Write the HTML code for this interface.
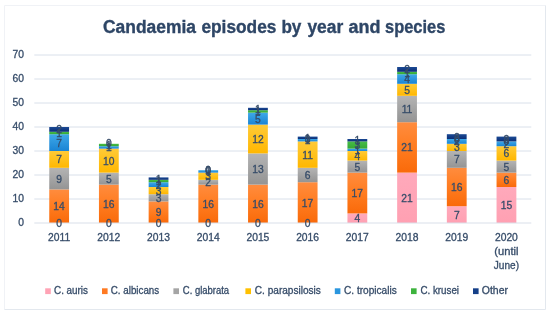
<!DOCTYPE html>
<html lang="en"><head><meta charset="utf-8"><title>Candaemia episodes by year and species</title>
<style>html,body{margin:0;padding:0;background:#fff}svg{display:block}text{font-family:"Liberation Sans",sans-serif}.l{stroke:#364c69;stroke-width:.3px}.t{stroke:#2e4666;stroke-width:.35px}</style></head><body>
<svg width="550" height="314" viewBox="0 0 550 314">
<defs>
<linearGradient id="g0" x1="0" y1="0" x2="0" y2="1"><stop offset="0" stop-color="#ffa9bb"/><stop offset="0.5" stop-color="#ffa5b7"/><stop offset="1" stop-color="#ffa0b2"/></linearGradient>
<linearGradient id="g1" x1="0" y1="0" x2="0" y2="1"><stop offset="0" stop-color="#ff8c3e"/><stop offset="0.5" stop-color="#ff7c20"/><stop offset="1" stop-color="#f96a0a"/></linearGradient>
<linearGradient id="g2" x1="0" y1="0" x2="0" y2="1"><stop offset="0" stop-color="#b4b4b4"/><stop offset="0.5" stop-color="#a4a4a4"/><stop offset="1" stop-color="#949494"/></linearGradient>
<linearGradient id="g3" x1="0" y1="0" x2="0" y2="1"><stop offset="0" stop-color="#ffca38"/><stop offset="0.5" stop-color="#ffc11c"/><stop offset="1" stop-color="#ffb700"/></linearGradient>
<linearGradient id="g4" x1="0" y1="0" x2="0" y2="1"><stop offset="0" stop-color="#3fa9e8"/><stop offset="0.5" stop-color="#2c96de"/><stop offset="1" stop-color="#1a84d4"/></linearGradient>
<linearGradient id="g5" x1="0" y1="0" x2="0" y2="1"><stop offset="0" stop-color="#48bd48"/><stop offset="0.5" stop-color="#3eb23e"/><stop offset="1" stop-color="#35a835"/></linearGradient>
<linearGradient id="g6" x1="0" y1="0" x2="0" y2="1"><stop offset="0" stop-color="#1b4a94"/><stop offset="0.5" stop-color="#133c86"/><stop offset="1" stop-color="#0b2f78"/></linearGradient>
</defs>
<rect width="550" height="314" fill="#fff"/>
<path d="M4.5 309.5V5.5H545.5" fill="none" stroke="#f0f2f6" stroke-width="1"/>
<path d="M545.5 5.5V309.5H4.5" fill="none" stroke="#e3e8ee" stroke-width="1"/>
<text class="t" y="32.8" font-size="18" font-weight="bold" fill="#2e4666"><tspan x="103.00" textLength="93.00" lengthAdjust="spacingAndGlyphs">Candaemia</tspan> <tspan x="201.40" textLength="75.00" lengthAdjust="spacingAndGlyphs">episodes</tspan> <tspan x="281.40" textLength="20.00" lengthAdjust="spacingAndGlyphs">by</tspan> <tspan x="307.40" textLength="35.80" lengthAdjust="spacingAndGlyphs">year</tspan> <tspan x="348.60" textLength="32.00" lengthAdjust="spacingAndGlyphs">and</tspan> <tspan x="385.00" textLength="60.40" lengthAdjust="spacingAndGlyphs">species</tspan></text>
<line x1="34.3" x2="531.3" y1="199.0" y2="199.0" stroke="#d9e0ea" stroke-width="1"/>
<line x1="34.3" x2="531.3" y1="175.0" y2="175.0" stroke="#d9e0ea" stroke-width="1"/>
<line x1="34.3" x2="531.3" y1="151.0" y2="151.0" stroke="#d9e0ea" stroke-width="1"/>
<line x1="34.3" x2="531.3" y1="127.0" y2="127.0" stroke="#d9e0ea" stroke-width="1"/>
<line x1="34.3" x2="531.3" y1="103.0" y2="103.0" stroke="#d9e0ea" stroke-width="1"/>
<line x1="34.3" x2="531.3" y1="79.0" y2="79.0" stroke="#d9e0ea" stroke-width="1"/>
<line x1="34.3" x2="531.3" y1="55.0" y2="55.0" stroke="#d9e0ea" stroke-width="1"/>
<text x="24" y="225.5" class="l" font-size="10.3" fill="#364c69" text-anchor="end">0</text>
<text x="24" y="201.5" class="l" font-size="10.3" fill="#364c69" text-anchor="end">10</text>
<text x="24" y="177.5" class="l" font-size="10.3" fill="#364c69" text-anchor="end">20</text>
<text x="24" y="153.5" class="l" font-size="10.3" fill="#364c69" text-anchor="end">30</text>
<text x="24" y="129.5" class="l" font-size="10.3" fill="#364c69" text-anchor="end">40</text>
<text x="24" y="105.5" class="l" font-size="10.3" fill="#364c69" text-anchor="end">50</text>
<text x="24" y="81.5" class="l" font-size="10.3" fill="#364c69" text-anchor="end">60</text>
<text x="24" y="57.5" class="l" font-size="10.3" fill="#364c69" text-anchor="end">70</text>
<rect x="49.25" y="189.40" width="19.8" height="33.60" fill="url(#g1)"/>
<rect x="49.25" y="167.80" width="19.8" height="21.60" fill="url(#g2)"/>
<rect x="49.25" y="151.00" width="19.8" height="16.80" fill="url(#g3)"/>
<rect x="49.25" y="134.20" width="19.8" height="16.80" fill="url(#g4)"/>
<rect x="49.25" y="131.80" width="19.8" height="2.40" fill="url(#g5)"/>
<rect x="49.25" y="127.00" width="19.8" height="4.80" fill="url(#g6)"/>
<rect x="98.95" y="184.60" width="19.8" height="38.40" fill="url(#g1)"/>
<rect x="98.95" y="172.60" width="19.8" height="12.00" fill="url(#g2)"/>
<rect x="98.95" y="148.60" width="19.8" height="24.00" fill="url(#g3)"/>
<rect x="98.95" y="146.20" width="19.8" height="2.40" fill="url(#g4)"/>
<rect x="98.95" y="143.80" width="19.8" height="2.40" fill="url(#g5)"/>
<rect x="148.65" y="201.40" width="19.8" height="21.60" fill="url(#g1)"/>
<rect x="148.65" y="194.20" width="19.8" height="7.20" fill="url(#g2)"/>
<rect x="148.65" y="187.00" width="19.8" height="7.20" fill="url(#g3)"/>
<rect x="148.65" y="182.20" width="19.8" height="4.80" fill="url(#g4)"/>
<rect x="148.65" y="179.80" width="19.8" height="2.40" fill="url(#g5)"/>
<rect x="148.65" y="177.40" width="19.8" height="2.40" fill="url(#g6)"/>
<rect x="198.35" y="184.60" width="19.8" height="38.40" fill="url(#g1)"/>
<rect x="198.35" y="179.80" width="19.8" height="4.80" fill="url(#g2)"/>
<rect x="198.35" y="172.60" width="19.8" height="7.20" fill="url(#g3)"/>
<rect x="198.35" y="170.20" width="19.8" height="2.40" fill="url(#g4)"/>
<rect x="248.05" y="184.60" width="19.8" height="38.40" fill="url(#g1)"/>
<rect x="248.05" y="153.40" width="19.8" height="31.20" fill="url(#g2)"/>
<rect x="248.05" y="124.60" width="19.8" height="28.80" fill="url(#g3)"/>
<rect x="248.05" y="112.60" width="19.8" height="12.00" fill="url(#g4)"/>
<rect x="248.05" y="110.20" width="19.8" height="2.40" fill="url(#g5)"/>
<rect x="248.05" y="107.80" width="19.8" height="2.40" fill="url(#g6)"/>
<rect x="297.75" y="182.20" width="19.8" height="40.80" fill="url(#g1)"/>
<rect x="297.75" y="167.80" width="19.8" height="14.40" fill="url(#g2)"/>
<rect x="297.75" y="141.40" width="19.8" height="26.40" fill="url(#g3)"/>
<rect x="297.75" y="139.00" width="19.8" height="2.40" fill="url(#g4)"/>
<rect x="297.75" y="136.60" width="19.8" height="2.40" fill="url(#g6)"/>
<rect x="347.45" y="213.40" width="19.8" height="9.60" fill="url(#g0)"/>
<rect x="347.45" y="172.60" width="19.8" height="40.80" fill="url(#g1)"/>
<rect x="347.45" y="160.60" width="19.8" height="12.00" fill="url(#g2)"/>
<rect x="347.45" y="151.00" width="19.8" height="9.60" fill="url(#g3)"/>
<rect x="347.45" y="148.60" width="19.8" height="2.40" fill="url(#g4)"/>
<rect x="347.45" y="141.40" width="19.8" height="7.20" fill="url(#g5)"/>
<rect x="347.45" y="139.00" width="19.8" height="2.40" fill="url(#g6)"/>
<rect x="397.15" y="172.60" width="19.8" height="50.40" fill="url(#g0)"/>
<rect x="397.15" y="122.20" width="19.8" height="50.40" fill="url(#g1)"/>
<rect x="397.15" y="95.80" width="19.8" height="26.40" fill="url(#g2)"/>
<rect x="397.15" y="83.80" width="19.8" height="12.00" fill="url(#g3)"/>
<rect x="397.15" y="74.20" width="19.8" height="9.60" fill="url(#g4)"/>
<rect x="397.15" y="71.80" width="19.8" height="2.40" fill="url(#g5)"/>
<rect x="397.15" y="67.00" width="19.8" height="4.80" fill="url(#g6)"/>
<rect x="446.85" y="206.20" width="19.8" height="16.80" fill="url(#g0)"/>
<rect x="446.85" y="167.80" width="19.8" height="38.40" fill="url(#g1)"/>
<rect x="446.85" y="151.00" width="19.8" height="16.80" fill="url(#g2)"/>
<rect x="446.85" y="143.80" width="19.8" height="7.20" fill="url(#g3)"/>
<rect x="446.85" y="139.00" width="19.8" height="4.80" fill="url(#g4)"/>
<rect x="446.85" y="134.20" width="19.8" height="4.80" fill="url(#g6)"/>
<rect x="496.55" y="187.00" width="19.8" height="36.00" fill="url(#g0)"/>
<rect x="496.55" y="172.60" width="19.8" height="14.40" fill="url(#g1)"/>
<rect x="496.55" y="160.60" width="19.8" height="12.00" fill="url(#g2)"/>
<rect x="496.55" y="146.20" width="19.8" height="14.40" fill="url(#g3)"/>
<rect x="496.55" y="141.40" width="19.8" height="4.80" fill="url(#g4)"/>
<rect x="496.55" y="136.60" width="19.8" height="4.80" fill="url(#g6)"/>
<line x1="34.3" x2="531.3" y1="223.0" y2="223.0" stroke="#d9dfe9" stroke-width="1.1"/>
<text x="59.1" y="226.5" class="l" font-size="10.3" fill="#364c69" text-anchor="middle">0</text>
<text x="108.8" y="226.5" class="l" font-size="10.3" fill="#364c69" text-anchor="middle">0</text>
<text x="158.5" y="226.5" class="l" font-size="10.3" fill="#364c69" text-anchor="middle">0</text>
<text x="208.2" y="226.5" class="l" font-size="10.3" fill="#364c69" text-anchor="middle">0</text>
<text x="257.9" y="226.5" class="l" font-size="10.3" fill="#364c69" text-anchor="middle">0</text>
<text x="307.6" y="226.5" class="l" font-size="10.3" fill="#364c69" text-anchor="middle">0</text>
<text x="357.3" y="222.2" class="l" font-size="10.3" fill="#364c69" text-anchor="middle">4</text>
<text x="407.0" y="201.8" class="l" font-size="10.3" fill="#364c69" text-anchor="middle">21</text>
<text x="456.8" y="218.6" class="l" font-size="10.3" fill="#364c69" text-anchor="middle">7</text>
<text x="506.4" y="209.0" class="l" font-size="10.3" fill="#364c69" text-anchor="middle">15</text>
<text x="59.1" y="210.2" class="l" font-size="10.3" fill="#364c69" text-anchor="middle">14</text>
<text x="108.8" y="207.8" class="l" font-size="10.3" fill="#364c69" text-anchor="middle">16</text>
<text x="158.5" y="216.2" class="l" font-size="10.3" fill="#364c69" text-anchor="middle">9</text>
<text x="208.2" y="207.8" class="l" font-size="10.3" fill="#364c69" text-anchor="middle">16</text>
<text x="257.9" y="207.8" class="l" font-size="10.3" fill="#364c69" text-anchor="middle">16</text>
<text x="307.6" y="206.6" class="l" font-size="10.3" fill="#364c69" text-anchor="middle">17</text>
<text x="357.3" y="197.0" class="l" font-size="10.3" fill="#364c69" text-anchor="middle">17</text>
<text x="407.0" y="151.4" class="l" font-size="10.3" fill="#364c69" text-anchor="middle">21</text>
<text x="456.8" y="191.0" class="l" font-size="10.3" fill="#364c69" text-anchor="middle">16</text>
<text x="506.4" y="183.8" class="l" font-size="10.3" fill="#364c69" text-anchor="middle">6</text>
<text x="59.1" y="182.6" class="l" font-size="10.3" fill="#364c69" text-anchor="middle">9</text>
<text x="108.8" y="182.6" class="l" font-size="10.3" fill="#364c69" text-anchor="middle">5</text>
<text x="158.5" y="201.8" class="l" font-size="10.3" fill="#364c69" text-anchor="middle">3</text>
<text x="208.2" y="186.2" class="l" font-size="10.3" fill="#364c69" text-anchor="middle">2</text>
<text x="257.9" y="173.0" class="l" font-size="10.3" fill="#364c69" text-anchor="middle">13</text>
<text x="307.6" y="179.0" class="l" font-size="10.3" fill="#364c69" text-anchor="middle">6</text>
<text x="357.3" y="170.6" class="l" font-size="10.3" fill="#364c69" text-anchor="middle">5</text>
<text x="407.0" y="113.0" class="l" font-size="10.3" fill="#364c69" text-anchor="middle">11</text>
<text x="456.8" y="163.4" class="l" font-size="10.3" fill="#364c69" text-anchor="middle">7</text>
<text x="506.4" y="170.6" class="l" font-size="10.3" fill="#364c69" text-anchor="middle">5</text>
<text x="59.1" y="163.4" class="l" font-size="10.3" fill="#364c69" text-anchor="middle">7</text>
<text x="108.8" y="164.6" class="l" font-size="10.3" fill="#364c69" text-anchor="middle">10</text>
<text x="158.5" y="194.6" class="l" font-size="10.3" fill="#364c69" text-anchor="middle">3</text>
<text x="208.2" y="180.2" class="l" font-size="10.3" fill="#364c69" text-anchor="middle">3</text>
<text x="257.9" y="143.0" class="l" font-size="10.3" fill="#364c69" text-anchor="middle">12</text>
<text x="307.6" y="158.6" class="l" font-size="10.3" fill="#364c69" text-anchor="middle">11</text>
<text x="357.3" y="159.8" class="l" font-size="10.3" fill="#364c69" text-anchor="middle">4</text>
<text x="407.0" y="93.8" class="l" font-size="10.3" fill="#364c69" text-anchor="middle">5</text>
<text x="456.8" y="151.4" class="l" font-size="10.3" fill="#364c69" text-anchor="middle">3</text>
<text x="506.4" y="157.4" class="l" font-size="10.3" fill="#364c69" text-anchor="middle">6</text>
<text x="59.1" y="146.6" class="l" font-size="10.3" fill="#364c69" text-anchor="middle">7</text>
<text x="108.8" y="151.4" class="l" font-size="10.3" fill="#364c69" text-anchor="middle">1</text>
<text x="158.5" y="188.6" class="l" font-size="10.3" fill="#364c69" text-anchor="middle">2</text>
<text x="208.2" y="175.4" class="l" font-size="10.3" fill="#364c69" text-anchor="middle">1</text>
<text x="257.9" y="122.6" class="l" font-size="10.3" fill="#364c69" text-anchor="middle">5</text>
<text x="307.6" y="144.2" class="l" font-size="10.3" fill="#364c69" text-anchor="middle">1</text>
<text x="357.3" y="153.8" class="l" font-size="10.3" fill="#364c69" text-anchor="middle">1</text>
<text x="407.0" y="83.0" class="l" font-size="10.3" fill="#364c69" text-anchor="middle">4</text>
<text x="456.8" y="145.4" class="l" font-size="10.3" fill="#364c69" text-anchor="middle">2</text>
<text x="506.4" y="147.8" class="l" font-size="10.3" fill="#364c69" text-anchor="middle">2</text>
<text x="59.1" y="137.0" class="l" font-size="10.3" fill="#364c69" text-anchor="middle">1</text>
<text x="108.8" y="149.0" class="l" font-size="10.3" fill="#364c69" text-anchor="middle">1</text>
<text x="158.5" y="185.0" class="l" font-size="10.3" fill="#364c69" text-anchor="middle">1</text>
<text x="208.2" y="173.7" class="l" font-size="10.3" fill="#364c69" text-anchor="middle">0</text>
<text x="257.9" y="115.4" class="l" font-size="10.3" fill="#364c69" text-anchor="middle">1</text>
<text x="307.6" y="142.5" class="l" font-size="10.3" fill="#364c69" text-anchor="middle">0</text>
<text x="357.3" y="149.0" class="l" font-size="10.3" fill="#364c69" text-anchor="middle">3</text>
<text x="407.0" y="77.0" class="l" font-size="10.3" fill="#364c69" text-anchor="middle">1</text>
<text x="456.8" y="142.5" class="l" font-size="10.3" fill="#364c69" text-anchor="middle">0</text>
<text x="506.4" y="144.9" class="l" font-size="10.3" fill="#364c69" text-anchor="middle">0</text>
<text x="59.1" y="133.4" class="l" font-size="10.3" fill="#364c69" text-anchor="middle">2</text>
<text x="108.8" y="147.3" class="l" font-size="10.3" fill="#364c69" text-anchor="middle">0</text>
<text x="158.5" y="182.6" class="l" font-size="10.3" fill="#364c69" text-anchor="middle">1</text>
<text x="208.2" y="173.7" class="l" font-size="10.3" fill="#364c69" text-anchor="middle">0</text>
<text x="257.9" y="113.0" class="l" font-size="10.3" fill="#364c69" text-anchor="middle">1</text>
<text x="307.6" y="141.8" class="l" font-size="10.3" fill="#364c69" text-anchor="middle">1</text>
<text x="357.3" y="144.2" class="l" font-size="10.3" fill="#364c69" text-anchor="middle">1</text>
<text x="407.0" y="73.4" class="l" font-size="10.3" fill="#364c69" text-anchor="middle">2</text>
<text x="456.8" y="140.6" class="l" font-size="10.3" fill="#364c69" text-anchor="middle">2</text>
<text x="506.4" y="143.0" class="l" font-size="10.3" fill="#364c69" text-anchor="middle">2</text>
<text x="59.1" y="240.9" class="l" font-size="10.3" fill="#364c69" text-anchor="middle">2011</text>
<text x="108.8" y="240.9" class="l" font-size="10.3" fill="#364c69" text-anchor="middle">2012</text>
<text x="158.5" y="240.9" class="l" font-size="10.3" fill="#364c69" text-anchor="middle">2013</text>
<text x="208.2" y="240.9" class="l" font-size="10.3" fill="#364c69" text-anchor="middle">2014</text>
<text x="257.9" y="240.9" class="l" font-size="10.3" fill="#364c69" text-anchor="middle">2015</text>
<text x="307.6" y="240.9" class="l" font-size="10.3" fill="#364c69" text-anchor="middle">2016</text>
<text x="357.3" y="240.9" class="l" font-size="10.3" fill="#364c69" text-anchor="middle">2017</text>
<text x="407.0" y="240.9" class="l" font-size="10.3" fill="#364c69" text-anchor="middle">2018</text>
<text x="456.8" y="240.9" class="l" font-size="10.3" fill="#364c69" text-anchor="middle">2019</text>
<text x="506.4" y="240.9" class="l" font-size="10.3" fill="#364c69" text-anchor="middle">2020</text>
<text x="506.4" y="255.3" class="l" font-size="10.3" fill="#364c69" text-anchor="middle" textLength="24.2" lengthAdjust="spacingAndGlyphs">(until</text>
<text x="506.4" y="269.3" class="l" font-size="10.3" fill="#364c69" text-anchor="middle" textLength="25.2" lengthAdjust="spacingAndGlyphs">June)</text>
<rect x="45.2" y="288.3" width="5.6" height="5.8" fill="#ffa3b5"/>
<text x="54" y="293.6" class="l" font-size="10.3" fill="#364c69" textLength="34.0" lengthAdjust="spacingAndGlyphs">C. auris</text>
<rect x="102" y="288.3" width="5.6" height="5.8" fill="#ff7a22"/>
<text x="110.8" y="293.6" class="l" font-size="10.3" fill="#364c69" textLength="48.4" lengthAdjust="spacingAndGlyphs">C. albicans</text>
<rect x="173.4" y="288.3" width="5.6" height="5.8" fill="#a5a5a5"/>
<text x="182.8" y="293.6" class="l" font-size="10.3" fill="#364c69" textLength="46.3" lengthAdjust="spacingAndGlyphs">C. glabrata</text>
<rect x="245.4" y="288.3" width="5.6" height="5.8" fill="#ffc000"/>
<text x="254.8" y="293.6" class="l" font-size="10.3" fill="#364c69" textLength="66.1" lengthAdjust="spacingAndGlyphs">C. parapsilosis</text>
<rect x="334.8" y="288.3" width="5.6" height="5.8" fill="#2a96de"/>
<text x="344" y="293.6" class="l" font-size="10.3" fill="#364c69" textLength="52.7" lengthAdjust="spacingAndGlyphs">C. tropicalis</text>
<rect x="411" y="288.3" width="5.6" height="5.8" fill="#3db33d"/>
<text x="420.4" y="293.6" class="l" font-size="10.3" fill="#364c69" textLength="38.6" lengthAdjust="spacingAndGlyphs">C. krusei</text>
<rect x="473" y="288.3" width="5.6" height="5.8" fill="#153f88"/>
<text x="481.8" y="293.6" class="l" font-size="10.3" fill="#364c69" textLength="26.2" lengthAdjust="spacingAndGlyphs">Other</text>
</svg></body></html>
